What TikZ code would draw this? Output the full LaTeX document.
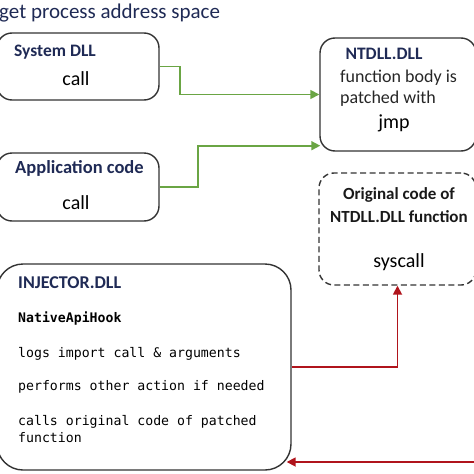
\documentclass[tikz,border=0pt]{standalone}
\usepackage{fontspec}
\setmainfont{Carlito}
\newfontfamily\monof{DejaVu Sans Mono}
\usetikzlibrary{arrows.meta}
\definecolor{navy}{HTML}{1F2A55}
\definecolor{greenc}{HTML}{6AA544}
\definecolor{redc}{HTML}{B0141C}
\definecolor{boxc}{HTML}{333333}
\tikzset{
  box/.style={draw=boxc, line width=1.4pt, rounded corners=15pt, inner sep=0pt},
  bigbox/.style={box, rounded corners=26pt},
  dbox/.style={box, dash pattern=on 6pt off 3.5pt},
  lbl/.style={inner sep=0pt, anchor=base west},
  clbl/.style={inner sep=0pt, anchor=base},
  head/.style={font=\fontsize{17.5}{20}\selectfont\bfseries, text=navy},
  big/.style={font=\fontsize{20}{24}\selectfont, text=black},
  mid/.style={font=\fontsize{18}{22}\selectfont, text=black!85},
  bhead/.style={font=\fontsize{17}{20}\selectfont\bfseries, text=black!90},
  mono/.style={font=\fontsize{13.2}{16}\selectfont\monof, text=black},
  gconn/.style={draw=greenc, line width=1.6pt, -{Triangle[length=9pt,width=9pt]}},
  rconn/.style={draw=redc, line width=1.7pt, -{Triangle[length=9pt,width=9pt]}},
}
\begin{document}
\begin{tikzpicture}[x=1pt,y=-1pt]
\useasboundingbox (0,0) rectangle (474,474);
% title
\node[lbl, font=\fontsize{21}{24}\selectfont, text=navy] (title) at (-1,18) {get process address space};
% boxes
\node[box, minimum width=162pt, minimum height=67pt] (sys) at (78,66.5) {};
\node[box, minimum width=162pt, minimum height=68pt] (app) at (78,187) {};
\node[box, minimum width=156pt, minimum height=113pt] (nt) at (398,94.5) {};
\node[dbox, minimum width=157pt, minimum height=112pt] (orig) at (397.5,229) {};
\node[bigbox, minimum width=294pt, minimum height=206pt] (inj) at (144,367) {};
% texts
\node[lbl, head] (t1) at (14,56) {System DLL};
\node[clbl, big] (t2) at (76,85) {call};
\node[lbl, head, font=\fontsize{18.5}{22}\selectfont\bfseries] (t3) at (15,173) {Application code};
\node[clbl, big] (t4) at (76,209) {call};
\node[clbl, head] (t5) at (384,59) {NTDLL.DLL};
\node[lbl, mid] (t6) at (340,82) {function body is};
\node[lbl, mid] (t7) at (340,103) {patched with};
\node[clbl, big] (t8) at (394,128) {jmp};
\node[clbl, bhead] (t9) at (399,199) {Original code of};
\node[clbl, bhead] (t10) at (399,222) {NTDLL.DLL function};
\node[clbl, big] (t11) at (399,267) {syscall};
\node[lbl, head, font=\fontsize{18}{22}\selectfont\bfseries] (t12) at (18,288) {INJECTOR.DLL};
\node[lbl, mono, font=\fontsize{13.2}{16}\selectfont\monof\bfseries] (t13) at (18,322) {NativeApiHook};
\node[lbl, mono] (t14) at (18,357) {logs import call \& arguments};
\node[lbl, mono] (t15) at (18,390) {performs other action if needed};
\node[lbl, mono] (t16) at (18,425) {calls original code of patched};
\node[lbl, mono] (t17) at (18,442) {function};
% connectors
\draw[gconn] (sys.east) -- ++(20,0) |- (nt.west);
\draw[gconn] (app.east) -- ++(38,0) |- ([yshift=6pt,xshift=1pt]nt.south west);
\draw[rconn] (inj.east) -| (orig.south);
\coordinate (rin) at (476,462);
\draw[rconn] (rin) -- ([xshift=-5pt]rin -| inj.east);
\end{tikzpicture}
\end{document}
